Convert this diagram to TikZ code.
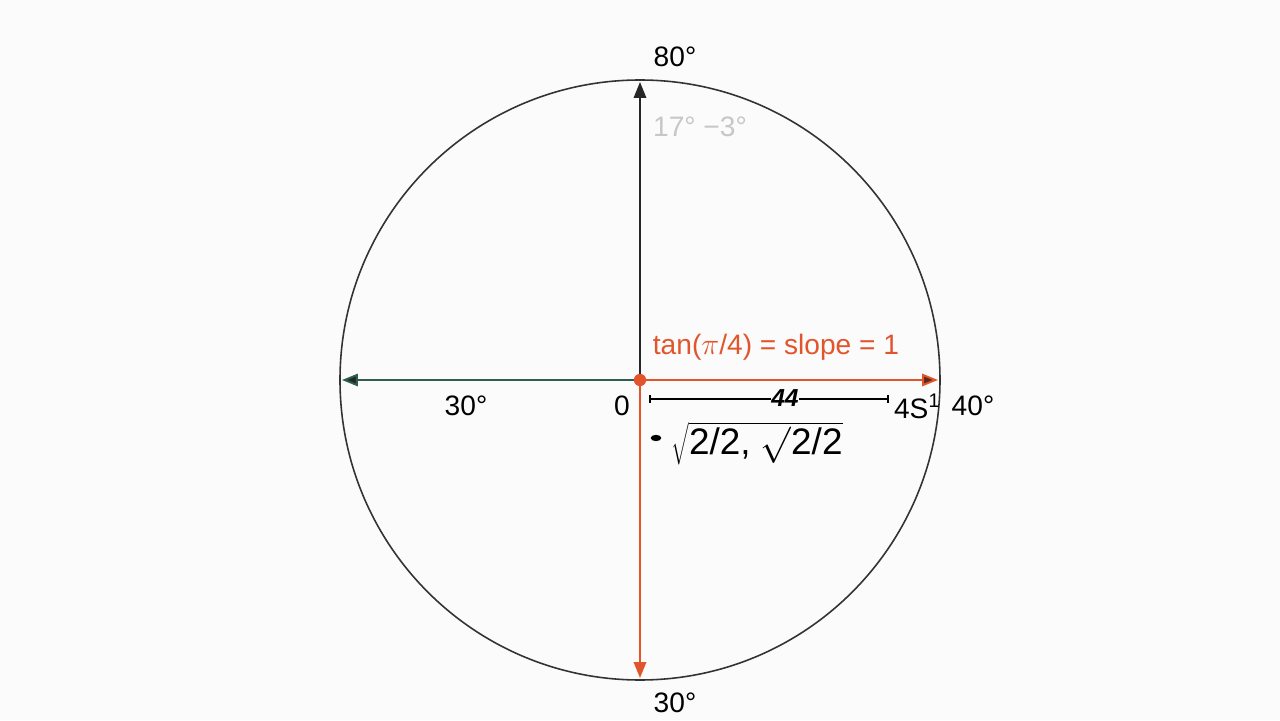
\documentclass[tikz,border=0pt]{standalone}
\usepackage{fontspec}
\setmainfont{Liberation Sans}
\usetikzlibrary{arrows.meta,calc}
\definecolor{rimred}{HTML}{E2552C}
\definecolor{axgreen}{HTML}{2F5E50}
\definecolor{tipbrown}{HTML}{5A2A1E}
\tikzset{lbl/.style={font=\fontsize{16}{18}\selectfont, inner sep=1pt},
         axis/.style={line width=1.1pt}}

\begin{document}
\begin{tikzpicture}
       \useasboundingbox[fill=white!97!gray] (-12.8,-6.8) rectangle (12.8,7.6);
       \coordinate (O) at (0,0);
       \coordinate (N) at (0,5.96);
       \coordinate (S) at (0,-5.96);
       \coordinate (E) at (5.96,0);
       \coordinate (W) at (-5.96,0);
       \draw[line width=0.9pt, black!80] (O) circle [radius=6];
       \draw[axis, black!85, -{Triangle[length=9pt,width=7pt]}] (O) -- (N);
       \draw[axis, axgreen, -{Triangle[length=9pt,width=7pt,fill=black!85]}] (O) -- (W);
       \draw[axis, rimred, -{Triangle[length=9pt,width=7pt,fill=tipbrown]}] (O) -- (E);
       \draw[axis, rimred, -{Triangle[length=9pt,width=7pt]}] (O) -- (S);
       \fill[rimred] (O) circle [radius=3.5pt];
       % dimension line under the slope
       \coordinate (dimL) at (0.2,-0.38);
       \coordinate (dimR) at (4.96,-0.38);
       \draw[line width=0.6pt] (dimL) -- (dimR);
       \draw[line width=0.6pt] ($(dimL)+(0,0.08)$) -- ($(dimL)+(0,-0.08)$);
       \draw[line width=0.6pt] ($(dimR)+(0,0.08)$) -- ($(dimR)+(0,-0.08)$);
       \node at (2.9,-0.36) [fill=white!97!gray, inner sep=0.3pt, font=\fontsize{14}{15}\selectfont\bfseries\itshape] (len) {44};
       \node at (0.7,6.46) [lbl] (top) {80°};
       \node at (1.2,5.06) [lbl, black!22] (ghost) {17° −3°};
       \node at (2.72,0.66) [lbl, rimred] (slope) {tan($\pi$/4) = slope = 1};
       \node at (-3.48,-0.52) [lbl] (west) {30°};
       \node at (-0.36,-0.52) [lbl] (zero) {0};
       \node at (5.04,-0.52) [lbl, anchor=west] (angle) {4S\textsuperscript{1}};
       \node at (6.66,-0.52) [lbl] (east) {40°};
       \node at (0.7,-6.46) [lbl] (bottom) {30°};
       \node at (2.34,-1.28) [inner sep=0pt, font=\fontsize{21}{23}\selectfont] (point) {$\sqrt{\mbox{2/2, }\surd\mbox{2/2}}$};
       \fill (0.32,-1.16) circle [x radius=3pt, y radius=1.8pt];
\end{tikzpicture}
\end{document}
